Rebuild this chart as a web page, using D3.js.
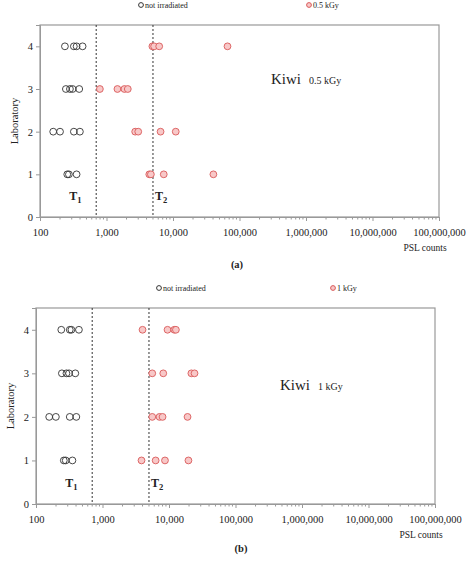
<!DOCTYPE html>
<html lang="en">
<head>
<meta charset="UTF-8">
<script src="https://d3js.org/d3.v7.min.js"></script>
<style>
  body { margin: 0; background: #fff; }
  text { font-family: "Liberation Serif", serif; fill: #222; }
</style>
</head>
<body>
<svg id="chart" width="474" height="561"></svg>
<script>
const labs = [1, 2, 3, 4];
const xTicks = [100, 1e3, 1e4, 1e5, 1e6, 1e7, 1e8];
const thresholds = [700, 5000];

// panel a: 0.5 kGy
const ctrlA = [[257, 272, 355], [158, 200, 323, 398], [245, 282, 309, 389], [237, 323, 355, 437]];
const irrA = [[4400, 4650, 7260, 40500], [2700, 3000, 6500, 11000], [795, 1460, 1860, 2090], [4900, 5200, 6200, 66000]];
// panel b: 1 kGy
const ctrlB = [[262, 280, 353], [158, 199, 322, 404], [245, 287, 314, 390], [240, 322, 341, 442]];
const irrB = [[3860, 6300, 8700, 19600], [5600, 7200, 8000, 19000], [5600, 8200, 21700, 24200], [4000, 9500, 12000, 12700]];

const svg = d3.select("#chart");

function panel(cfg) {
  const x = d3.scaleLog().domain([100, 1e8]).range([cfg.left, cfg.right]);
  const y = d3.scaleLinear().domain([0, 4.5]).range([cfg.bottom, cfg.top]);
  const g = svg.append("g");

  // frame
  g.append("rect").attr("x", cfg.left).attr("y", cfg.top)
    .attr("width", cfg.right - cfg.left).attr("height", cfg.bottom - cfg.top)
    .attr("fill", "none").attr("stroke", "#999").attr("stroke-width", 1.2);

  const xa = g.append("g").attr("transform", `translate(0,${cfg.bottom})`)
    .call(d3.axisBottom(x).tickValues(xTicks).tickFormat(d3.format(",")).tickSize(4));
  // minor ticks
  const minor = [];
  for (let e = 2; e < 8; e++) for (let m = 2; m < 10; m++) minor.push(m * Math.pow(10, e));
  xa.selectAll(".minor").data(minor).join("line").attr("class", "minor")
    .attr("x1", d => x(d)).attr("x2", d => x(d)).attr("y1", 0).attr("y2", 2.5).attr("stroke", "#999");
  xa.select(".domain").attr("stroke", "#999");
  xa.selectAll(".tick line").attr("stroke", "#999");
  xa.selectAll("text").attr("font-size", 10.5).attr("font-family", "Liberation Serif").attr("dy", "1.1em");

  const ya = g.append("g").attr("transform", `translate(${cfg.left},0)`)
    .call(d3.axisLeft(y).tickValues([0, 1, 2, 3, 4]).tickFormat(d3.format("d")).tickSize(4));
  ya.select(".domain").attr("stroke", "#999");
  ya.selectAll(".tick line").attr("stroke", "#999");
  ya.selectAll("text").attr("font-size", 10.5).attr("font-family", "Liberation Serif");

  g.append("text").attr("transform", `translate(${cfg.left - 22},${(cfg.top + cfg.bottom) / 2}) rotate(-90)`)
    .attr("text-anchor", "middle").attr("font-size", 10.5).text("Laboratory");
  g.append("text").attr("x", cfg.right - 14).attr("y", cfg.bottom + 34)
    .attr("text-anchor", "middle").attr("font-size", 9.5).text("PSL counts");

  // thresholds
  g.selectAll(".thr").data(thresholds).join("line")
    .attr("x1", d => x(d)).attr("x2", d => x(d)).attr("y1", cfg.top).attr("y2", cfg.bottom)
    .attr("stroke", "#333").attr("stroke-dasharray", "2,2");
  ["T", "T"].forEach((t, i) => {
    const tx = g.append("text").attr("x", x(thresholds[i]) + (i === 0 ? -27 : 2)).attr("y", y(0.4))
      .attr("font-size", 12).attr("font-weight", "bold").text(t);
    tx.append("tspan").attr("font-size", 8.5).attr("dy", 3).text(i + 1);
  });

  const pts = (arr) => arr.flatMap((vals, i) => vals.map(v => ({ v, lab: labs[i] })));
  g.selectAll(".ctrl").data(pts(cfg.ctrl)).join("circle")
    .attr("cx", d => x(d.v)).attr("cy", d => y(d.lab)).attr("r", 3.4)
    .attr("fill", "none").attr("stroke", "#333").attr("stroke-width", 0.9);
  g.selectAll(".irr").data(pts(cfg.irr)).join("circle")
    .attr("cx", d => x(d.v)).attr("cy", d => y(d.lab)).attr("r", 3.4)
    .attr("fill", "#f8c8c8").attr("stroke", "#d95a5a").attr("stroke-width", 0.9);

  // legend
  const ly = cfg.top - 17;
  g.append("circle").attr("cx", cfg.leg1).attr("cy", ly - 3).attr("r", 2.4).attr("fill", "none").attr("stroke", "#333");
  g.append("text").attr("x", cfg.leg1 + 4).attr("y", ly).attr("font-size", 8).text("not irradiated");
  g.append("circle").attr("cx", cfg.leg2).attr("cy", ly - 3).attr("r", 2.4).attr("fill", "#f8c8c8").attr("stroke", "#d95a5a");
  g.append("text").attr("x", cfg.leg2 + 4).attr("y", ly).attr("font-size", 8).text(cfg.dose);

  const k = g.append("text").attr("x", cfg.kiwiX).attr("y", cfg.kiwiY).attr("font-size", 15).text("Kiwi");
  k.append("tspan").attr("dx", 8).attr("font-size", 10).text(cfg.dose);

  g.append("text").attr("x", cfg.capX).attr("y", cfg.capY).attr("text-anchor", "middle")
    .attr("font-size", 10.5).attr("font-weight", "bold").text(cfg.cap);
}

panel({ left: 40, right: 439, top: 25, bottom: 217, ctrl: ctrlA, irr: irrA, dose: "0.5 kGy",
  leg1: 141, leg2: 309, kiwiX: 271, kiwiY: 84, capX: 237, capY: 268, cap: "(a)" });
panel({ left: 36, right: 435, top: 308, bottom: 504, ctrl: ctrlB, irr: irrB, dose: "1 kGy",
  leg1: 159, leg2: 333, kiwiX: 280, kiwiY: 390, capX: 241, capY: 552, cap: "(b)" });
</script>
</body>
</html>
